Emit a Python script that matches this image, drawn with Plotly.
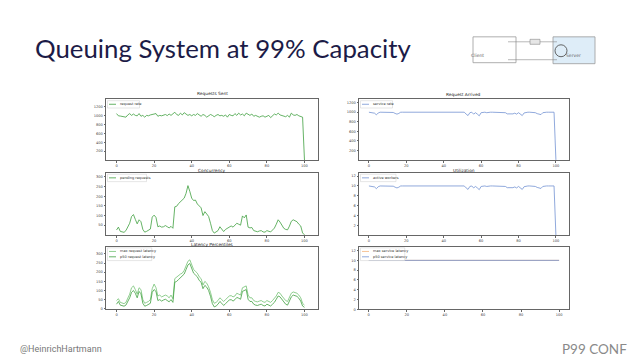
import plotly.graph_objects as go

W, H = 638, 359

steps = list(range(0, 101))

request_rate = [
    1040, 990, 985, 975, 980, 960, 1010, 1040, 1000, 1030,
    1000, 990, 1040, 980, 1000, 960, 1000, 990, 1010, 1020,
    1030, 1040, 980, 1000, 990, 1010, 1020, 995, 1030, 1000,
    1040, 1070, 1020, 1000, 1050, 1010, 1060, 1030, 1000, 1020,
    990, 1020, 1000, 1040, 1010, 980, 1020, 1000, 960, 990,
    1020, 1000, 970, 1000, 1020, 990, 1000, 980, 1010, 960,
    1020, 1000, 990, 1040, 1000, 1050, 1010, 1030, 990, 1050,
    1020, 1000, 1030, 980, 1000, 970, 960, 980, 990, 960,
    980, 1000, 950, 1000, 1030, 1010, 1050, 1010, 1000, 980,
    970, 1000, 960, 1050, 1010, 1000, 1020, 990, 980, 960,
    0]

service_rate = [
    1000, 995, 990, 980, 945, 985, 1000, 1000, 1000, 1000,
    1000, 1000, 1000, 995, 975, 960, 975, 1000, 1000, 1000,
    1000, 1000, 1000, 1000, 1000, 995, 1000, 1000, 1000, 1000,
    1000, 1000, 1000, 1000, 1000, 1000, 1000, 1000, 1000, 1000,
    1000, 1000, 1000, 1000, 1000, 1000, 1000, 1000, 1000, 1000,
    1000, 1000, 960, 930, 990, 1000, 960, 990, 960, 925,
    990, 1000, 1000, 990, 1000, 1000, 1000, 1000, 1000, 1000,
    1000, 1000, 1000, 990, 965, 960, 960, 965, 980, 960,
    990, 960, 930, 985, 1000, 1000, 1000, 1000, 1000, 990,
    970, 955, 950, 990, 1000, 1000, 1000, 1000, 1000, 1000,
    0]

pending_requests = [
    25, 40, 18, 14, 13, 22, 40, 60, 95, 105,
    80, 57, 78, 68, 28, 14, 18, 22, 30, 92,
    102, 90, 42, 46, 40, 42, 48, 42, 36, 44,
    34, 145, 148, 162, 170, 180, 190, 215, 255, 225,
    190, 178, 180, 160, 150, 140, 100, 120, 108, 95,
    60, 22, 9, 15, 22, 42, 30, 17, 28, 34,
    42, 46, 40, 48, 60, 55, 50, 98, 88, 103,
    40, 36, 38, 22, 18, 16, 20, 22, 15, 14,
    22, 20, 15, 25, 35, 55, 78, 66, 50, 34,
    28, 26, 45, 70, 78, 74, 68, 55, 46, 10,
    0]

active_workers = [
    10.0, 9.95, 9.9, 9.8, 9.45, 9.85, 10.0, 10.0, 10.0, 10.0,
    10.0, 10.0, 10.0, 9.95, 9.75, 9.6, 9.75, 10.0, 10.0, 10.0,
    10.0, 10.0, 10.0, 10.0, 10.0, 9.95, 10.0, 10.0, 10.0, 10.0,
    10.0, 10.0, 10.0, 10.0, 10.0, 10.0, 10.0, 10.0, 10.0, 10.0,
    10.0, 10.0, 10.0, 10.0, 10.0, 10.0, 10.0, 10.0, 10.0, 10.0,
    10.0, 10.0, 9.6, 9.3, 9.9, 10.0, 9.6, 9.9, 9.6, 9.25,
    9.9, 10.0, 10.0, 9.9, 10.0, 10.0, 10.0, 10.0, 10.0, 10.0,
    10.0, 10.0, 10.0, 9.9, 9.65, 9.6, 9.6, 9.65, 9.8, 9.6,
    9.9, 9.6, 9.3, 9.85, 10.0, 10.0, 10.0, 10.0, 10.0, 9.9,
    9.7, 9.55, 9.5, 9.9, 10.0, 10.0, 10.0, 10.0, 10.0, 10.0,
    0.0]

max_request_latency = [
    45, 55, 35, 30, 28, 35, 55, 80, 115, 125,
    105, 80, 115, 105, 50, 30, 35, 40, 50, 110,
    135, 115, 70, 75, 65, 70, 75, 70, 60, 75,
    55, 165, 175, 180, 190, 195, 210, 235, 260, 268,
    245, 215, 205, 195, 175, 165, 130, 150, 140, 120,
    90, 50, 30, 35, 45, 60, 50, 40, 50, 60,
    70, 72, 65, 70, 85, 80, 75, 115, 120, 125,
    75, 60, 60, 45, 40, 38, 42, 45, 38, 35,
    45, 42, 35, 45, 55, 70, 90, 85, 70, 55,
    45, 40, 60, 85, 92, 90, 85, 75, 60, 30,
    20]

p50_request_latency = [
    25, 40, 20, 15, 14, 20, 40, 60, 90, 100,
    85, 60, 95, 82, 30, 14, 18, 22, 30, 90,
    105, 95, 45, 50, 42, 48, 52, 45, 38, 50,
    35, 145, 150, 160, 172, 180, 190, 215, 240, 248,
    222, 195, 185, 175, 155, 145, 110, 128, 118, 100,
    68, 28, 10, 15, 25, 40, 30, 18, 28, 38,
    48, 50, 42, 50, 62, 58, 52, 95, 98, 105,
    52, 40, 40, 25, 20, 18, 22, 25, 18, 15,
    25, 22, 15, 25, 35, 52, 70, 65, 50, 35,
    25, 20, 40, 65, 75, 72, 68, 58, 42, 15,
    8]

max_service_latency = [10] * 101
p50_service_latency = [10] * 101

x_ticks = [0, 20, 40, 60, 80, 100]
rate_ticks = [200, 400, 600, 800, 1000, 1200]
pending_ticks = [50, 100, 150, 200, 250, 300]
worker_ticks = [2, 4, 6, 8, 10, 12]
latency_ticks = [0, 50, 100, 150, 200, 250, 300]
service_lat_ticks = [0, 2, 4, 6, 8, 10, 12]

GREEN = "#3f9f3f"
GREEN2 = "#72c272"
BLUE = "#7393d3"
ORANGE = "#f2b27a"

COND = "Lato, sans-serif"


def px(x):
    return x / W


def py(y):
    return 1 - y / H


LEFT = (98, 310)
RIGHT = (351, 561)
ROWS = [(92, 153), (166, 228.5), (240, 303)]

fig = go.Figure()

panels = [
    (1, LEFT, 0, [(request_rate, GREEN, "request rate")], [0, 1355], rate_ticks, [-5.6, 107.2]),
    (2, RIGHT, 0, [(service_rate, BLUE, "service rate")], [-5, 1267], rate_ticks, [-5.3, 107.0]),
    (3, LEFT, 1, [(pending_requests, GREEN, "pending requests")], [-2, 320], pending_ticks, [-5.6, 107.2]),
    (4, RIGHT, 1, [(active_workers, BLUE, "active workers")], [0.05, 12.6], worker_ticks, [-5.3, 107.0]),
    (5, LEFT, 2, [(max_request_latency, GREEN2, "max request latency"),
                  (p50_request_latency, GREEN, "p50 request latency")], [-3, 340], latency_ticks, [-5.6, 107.2]),
    (6, RIGHT, 2, [(max_service_latency, ORANGE, "max service latency"),
                   (p50_service_latency, BLUE, "p50 service latency")], [0, 12.8], service_lat_ticks, [-5.1, 105.2]),
]

axis_style = dict(
    showline=True, mirror=True, linecolor="#666666", linewidth=0.8,
    showgrid=False, zeroline=False, ticks="outside", ticklen=1.5,
    tickwidth=0.6, tickcolor="#666666",
    tickfont=dict(family="DejaVu Sans", size=3.6, color="#444444"),
)

shapes = []
annotations = []

for idx, col, row, traces, yr, yt, xr in panels:
    sfx = "" if idx == 1 else str(idx)
    for vals, color, name in traces:
        fig.add_trace(go.Scatter(
            x=steps, y=vals, mode="lines", name=name,
            line=dict(color=color, width=0.8),
            xaxis="x" + sfx, yaxis="y" + sfx, showlegend=False,
        ))
    y0, y1 = ROWS[row]
    fig.layout["xaxis" + sfx] = dict(
        domain=[px(col[0]), px(col[1])], anchor="y" + sfx,
        range=xr, tickvals=x_ticks, **axis_style)
    fig.layout["yaxis" + sfx] = dict(
        domain=[py(y1), py(y0)], anchor="x" + sfx,
        range=yr, tickvals=yt, **axis_style)

    n = len(traces)
    lx0 = col[0] + 1.5
    ly0 = y0 + 1.2
    longest = max(len(t[2]) for t in traces)
    lw = 11 + longest * 1.75
    lh = 2 + 5.4 * n
    shapes.append(dict(type="rect", xref="paper", yref="paper",
                       x0=px(lx0), x1=px(lx0 + lw), y0=py(ly0 + lh), y1=py(ly0),
                       line=dict(color="#cccccc", width=0.5), fillcolor="white", layer="above"))
    for k, (vals, color, name) in enumerate(traces):
        iy = ly0 + 3.6 + 5.4 * k
        shapes.append(dict(type="line", xref="paper", yref="paper",
                           x0=px(lx0 + 1.5), x1=px(lx0 + 8.5), y0=py(iy), y1=py(iy),
                           line=dict(color=color, width=0.8), layer="above"))
        annotations.append(dict(xref="paper", yref="paper", x=px(lx0 + 10.5), y=py(iy),
                                text=name, showarrow=False, xanchor="left", yanchor="middle",
                                font=dict(family="DejaVu Sans", size=3.5, color="#333333")))

for text, col, yy in [("Requests Sent", LEFT, 86), ("Request Arrived", RIGHT, 87),
                      ("Concurrency", LEFT, 163), ("Utilization", RIGHT, 163),
                      ("Latency Percentiles", LEFT, 237.5)]:
    annotations.append(dict(xref="paper", yref="paper", x=px((col[0] + col[1]) / 2), y=py(yy),
                            text=text, showarrow=False, xanchor="center", yanchor="middle",
                            font=dict(family="DejaVu Sans", size=4.3, color="#222222")))

annotations.append(dict(xref="paper", yref="paper", x=px(25), y=py(40),
                        text="Queuing System at 99% Capacity", showarrow=False,
                        xanchor="left", yanchor="middle",
                        font=dict(family=COND, size=25.8, color="#1c1b47")))

annotations.append(dict(xref="paper", yref="paper", x=px(10), y=py(343),
                        text="@HeinrichHartmann", showarrow=False, xanchor="left", yanchor="middle",
                        font=dict(family="Roboto", size=9, color="#777777")))
annotations.append(dict(xref="paper", yref="paper", x=px(621), y=py(343),
                        text="P99 CONF", showarrow=False, xanchor="right", yanchor="middle",
                        font=dict(family=COND, size=13.5, color="#8a8a8a")))

shapes += [
    dict(type="rect", xref="paper", yref="paper", x0=px(465), x1=px(508), y0=py(55), y1=py(29),
         line=dict(color="#9a9a9a", width=0.8), fillcolor="white"),
    dict(type="rect", xref="paper", yref="paper", x0=px(545), x1=px(587), y0=py(56), y1=py(29),
         line=dict(color="#9a9a9a", width=0.8), fillcolor="#deedf8"),
    dict(type="circle", xref="paper", yref="paper", x0=px(547), x1=px(559), y0=py(49), y1=py(37),
         line=dict(color="#555555", width=0.9)),
    dict(type="line", xref="paper", yref="paper", x0=px(500), x1=px(549), y0=py(34), y1=py(34),
         line=dict(color="#888888", width=0.6)),
    dict(type="line", xref="paper", yref="paper", x0=px(500), x1=px(549), y0=py(52), y1=py(52),
         line=dict(color="#888888", width=0.6)),
    dict(type="rect", xref="paper", yref="paper", x0=px(522), x1=px(532), y0=py(36.5), y1=py(31.5),
         line=dict(color="#888888", width=0.6), fillcolor="#e6e6e6"),
]
annotations.append(dict(xref="paper", yref="paper", x=px(478), y=py(43), text="Client",
                        showarrow=False, font=dict(family="DejaVu Sans", size=4.5, color="#666666")))
annotations.append(dict(xref="paper", yref="paper", x=px(575), y=py(43), text="Server",
                        showarrow=False, font=dict(family="DejaVu Sans", size=4.5, color="#666666")))

fig.update_layout(
    width=W, height=H, margin=dict(l=0, r=0, t=0, b=0),
    paper_bgcolor="white", plot_bgcolor="white", showlegend=False,
    shapes=shapes, annotations=annotations,
)

fig.write_html("out.html")
